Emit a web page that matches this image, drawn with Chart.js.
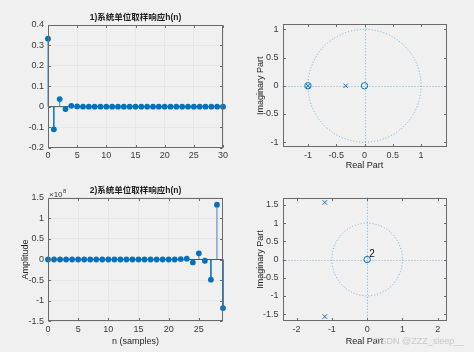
<!DOCTYPE html>
<html><head><meta charset="utf-8">
<script src="https://cdn.jsdelivr.net/npm/chart.js@4.4.0/dist/chart.umd.min.js"></script>
<style>
html,body{margin:0;padding:0;background:#f0f0f0;}
#fig{position:relative;width:474px;height:352px;overflow:hidden;background:#f0f0f0;}
canvas{position:absolute;display:block;}
</style></head><body>
<div id="fig">
<canvas id="c1" width="237" height="176" style="left:0;top:0"></canvas>
<canvas id="c2" width="237" height="176" style="left:237px;top:0"></canvas>
<canvas id="c3" width="237" height="176" style="left:0;top:176px"></canvas>
<canvas id="c4" width="237" height="176" style="left:237px;top:176px"></canvas>
</div>
<script>
// ---------- DATA ----------
// subplot 1: h(n), n = 0..30
const n1 = [0,1,2,3,4,5,6,7,8,9,10,11,12,13,14,15,16,17,18,19,20,21,22,23,24,25,26,27,28,29,30];
const h1 = [0.333,-0.111,0.037,-0.012,0.004,0.001,0,0,0,0,0,0,0,0,0,0,0,0,0,0,0,0,0,0,0,0,0,0,0,0,0];
const xTicks1 = [0,5,10,15,20,25,30];
const yTicks1 = [-0.2,-0.1,0,0.1,0.2,0.3,0.4];

// subplot 2: zero-pole plot
const zerosRe1 = [-1, 0];
const zerosIm1 = [0, 0];
const polesRe1 = [-1, -0.333];
const polesIm1 = [0, 0];
const xTicks2 = [-1,-0.5,0,0.5,1];
const yTicks2 = [-1,-0.5,0,0.5,1];

// subplot 3: h(n), n = 0..29, values in units of 10^8
const n2 = [0,1,2,3,4,5,6,7,8,9,10,11,12,13,14,15,16,17,18,19,20,21,22,23,24,25,26,27,28,29];
const h2 = [0,0,0,0,0,0,0,0,0,0,0,0,0,0,0,0,0,0,0,0,0,0,0.01,0.02,-0.07,0.15,-0.03,-0.49,1.33,-1.18];
const xTicks3 = [0,5,10,15,20,25];
const yTicks3 = [-1.5,-1,-0.5,0,0.5,1,1.5];

// subplot 4: zero-pole plot
const zerosRe2 = [0];
const zerosIm2 = [0];
const zerosMult2 = [2];
const polesRe2 = [-1.2, -1.2];
const polesIm2 = [1.57, -1.57];
const xTicks4 = [-2,-1,0,1,2];
const yTicks4 = [-1.5,-1,-0.5,0,0.5,1,1.5];

// ---------- STYLE / HELPERS ----------
const FONT = '"Liberation Sans", Arial, "Noto Sans CJK SC", sans-serif';
const TFONT = '"Liberation Sans", "Noto Sans CJK SC", sans-serif';
const BLUE = '#0072BD';
const W = 237, H = 176;
const fmt = v => String(parseFloat(Number(v).toFixed(4)));

const deco = {
  id: 'deco',
  beforeDatasetsDraw(chart, args, o) {
    if (!o.zplane) return;
    const xs = chart.scales.x, ys = chart.scales.y, a = chart.chartArea, ctx = chart.ctx;
    const cx = xs.getPixelForValue(0), cy = ys.getPixelForValue(0);
    const rx = xs.getPixelForValue(1) - cx, ry = cy - ys.getPixelForValue(1);
    ctx.save();
    ctx.strokeStyle = 'rgba(0,114,189,0.5)';
    ctx.lineWidth = 1;
    ctx.setLineDash([1, 2]);
    ctx.beginPath(); ctx.ellipse(cx, cy, rx, ry, 0, 0, Math.PI * 2); ctx.stroke();
    ctx.beginPath(); ctx.moveTo(a.left, Math.round(cy) + 0.5); ctx.lineTo(a.right, Math.round(cy) + 0.5); ctx.stroke();
    ctx.beginPath(); ctx.moveTo(Math.round(cx) + 0.5, a.top); ctx.lineTo(Math.round(cx) + 0.5, a.bottom); ctx.stroke();
    ctx.restore();
  },
  afterDraw(chart, args, o) {
    const xs = chart.scales.x, ys = chart.scales.y, a = chart.chartArea, ctx = chart.ctx;
    ctx.save();
    ctx.strokeStyle = '#6a6a6a';
    ctx.lineWidth = 1;
    const tl = 2.5;
    const L = Math.round(a.left) + 0.5, R = Math.round(a.right) - 0.5, T = Math.round(a.top) + 0.5, B = Math.round(a.bottom) - 0.5;
    ctx.beginPath();
    xs.ticks.forEach(t => {
      const px = Math.round(xs.getPixelForValue(t.value)) + 0.5;
      ctx.moveTo(px, B); ctx.lineTo(px, B - tl);
      ctx.moveTo(px, T); ctx.lineTo(px, T + tl);
    });
    ys.ticks.forEach(t => {
      const py = Math.round(ys.getPixelForValue(t.value)) + 0.5;
      ctx.moveTo(L, py); ctx.lineTo(L + tl, py);
      ctx.moveTo(R, py); ctx.lineTo(R - tl, py);
    });
    ctx.stroke();
    ctx.strokeRect(L, T, R - L, B - T);
    (o.texts || []).forEach(t => {
      ctx.font = t.font; ctx.fillStyle = t.color; ctx.textAlign = t.align || 'center'; ctx.textBaseline = 'middle';
      let x = t.x, y = t.y;
      if (t.dataX !== undefined) { x = xs.getPixelForValue(t.dataX) + t.x; y = ys.getPixelForValue(t.dataY) + t.y; }
      ctx.fillText(t.text, x, y);
    });
    ctx.restore();
  }
};

function axis(min, max, ticks, fit, grid, title, titlePad) {
  return {
    type: 'linear', min, max,
    afterFit: fit,
    afterBuildTicks: s => { s.ticks = ticks.map(v => ({ value: v })); },
    grid: { display: grid, color: '#e6e6e6', lineWidth: 1, drawTicks: false },
    border: { display: false },
    ticks: { autoSkip: false, maxRotation: 0, minRotation: 0, padding: 3, color: '#3a3a3a',
             font: { family: FONT, size: 9 }, callback: v => fmt(v) },
    title: { display: !!title, text: title || '', color: '#262626',
             font: { family: FONT, size: 9 }, padding: titlePad || 0 }
  };
}

function makeChart(id, area, datasets, xc, yc, plugOpts) {
  const xFit = s => { s.height = H - area.b; s.paddingLeft = 0; s.paddingRight = 0; };
  const yFit = s => { s.width = area.l; s.paddingTop = 0; s.paddingBottom = 0; };
  const x = axis(xc.min, xc.max, xc.ticks, xFit, xc.grid, xc.title, { top: 0, bottom: xc.pad || 0 });
  const y = axis(yc.min, yc.max, yc.ticks, yFit, yc.grid, yc.title, { top: yc.pad || 0, bottom: 0 });
  y.ticks.padding = 4;
  return new Chart(document.getElementById(id), {
    type: 'scatter',
    data: { datasets },
    options: {
      responsive: false, animation: false, devicePixelRatio: 1,
      layout: { padding: { left: 0, top: area.t, right: W - area.r, bottom: 0 } },
      scales: { x, y },
      plugins: { legend: { display: false }, tooltip: { enabled: false }, title: { display: false }, deco: plugOpts }
    },
    plugins: [deco]
  });
}

function stemSets(n, h, xmin, xmax) {
  const pts = [], stems = [];
  n.forEach((x, i) => {
    pts.push({ x, y: h[i] });
    stems.push({ x, y: 0 }, { x, y: h[i] }, { x, y: null });
  });
  return [
    { data: pts, pointRadius: 2.9, pointBackgroundColor: BLUE, pointBorderColor: BLUE, pointBorderWidth: 0, showLine: false, clip: false },
    { data: stems, showLine: true, spanGaps: false, borderColor: BLUE, borderWidth: 0.8, pointRadius: 0, clip: false },
    { data: [{ x: xmin, y: 0 }, { x: xmax, y: 0 }], showLine: true, borderColor: '#555555', borderWidth: 1, pointRadius: 0 }
  ];
}

function zpSets(zr, zi, pr, pi) {
  return [
    { data: zr.map((v, i) => ({ x: v, y: zi[i] })), pointStyle: 'circle', pointRadius: 3.2, pointBorderWidth: 1,
      pointBorderColor: BLUE, pointBackgroundColor: 'rgba(0,0,0,0)', showLine: false, clip: false },
    { data: pr.map((v, i) => ({ x: v, y: pi[i] })), pointStyle: 'crossRot', pointRadius: 3.2, pointBorderWidth: 1,
      pointBorderColor: BLUE, pointBackgroundColor: BLUE, showLine: false, clip: false }
  ];
}

// ---------- CHART 1 ----------
makeChart('c1', { l: 48, r: 223, t: 25, b: 147.5 }, stemSets(n1, h1, 0, 30),
  { min: 0, max: 30, ticks: xTicks1, grid: true },
  { min: -0.2, max: 0.4, ticks: yTicks1, grid: true },
  { texts: [{ text: '1)系统单位取样响应h(n)', x: 135.5, y: 17.5, font: 'bold 8.5px ' + TFONT, color: '#1e1e1e' }] });

// ---------- CHART 2 ----------
makeChart('c2', { l: 45.5, r: 209.5, t: 24.3, b: 147.3 }, zpSets(zerosRe1, zerosIm1, polesRe1, polesIm1),
  { min: -1.45, max: 1.45, ticks: xTicks2, grid: false, title: 'Real Part', pad: 4.6 },
  { min: -1.09, max: 1.09, ticks: yTicks2, grid: false, title: 'Imaginary Part', pad: 18.6 },
  { zplane: true, texts: [] });

// ---------- CHART 3 ----------
makeChart('c3', { l: 48, r: 223, t: 21.7, b: 145.3 }, stemSets(n2, h2, 0, 29),
  { min: 0, max: 29, ticks: xTicks3, grid: true, title: 'n (samples)', pad: 5.3 },
  { min: -1.5, max: 1.5, ticks: yTicks3, grid: true, title: 'Amplitude', pad: 20.6 },
  { texts: [
    { text: '2)系统单位取样响应h(n)', x: 135.5, y: 14.5, font: 'bold 8.5px ' + TFONT, color: '#1e1e1e' },
    { text: '×10', x: 49, y: 18.5, align: 'left', font: '8px ' + FONT, color: '#3a3a3a' },
    { text: '8', x: 63, y: 15, align: 'left', font: '6px ' + FONT, color: '#3a3a3a' }
  ] });

// ---------- CHART 4 ----------
makeChart('c4', { l: 45.5, r: 209.5, t: 21.7, b: 145.3 }, zpSets(zerosRe2, zerosIm2, polesRe2, polesIm2),
  { min: -2.40, max: 2.25, ticks: xTicks4, grid: false, title: 'Real Part', pad: 5.3 },
  { min: -1.70, max: 1.70, ticks: yTicks4, grid: false, title: 'Imaginary Part', pad: 18.6 },
  { zplane: true, texts: [
    { text: String(zerosMult2[0]), dataX: zerosRe2[0], dataY: zerosIm2[0], x: 2, y: -5, align: 'left', font: '10px ' + FONT, color: '#111' },
    { text: 'CSDN @ZZZ_sleep__', x: 137, y: 165.3, align: 'left', font: '9px ' + FONT, color: '#c8c8c8' }
  ] });
</script>
</body></html>
